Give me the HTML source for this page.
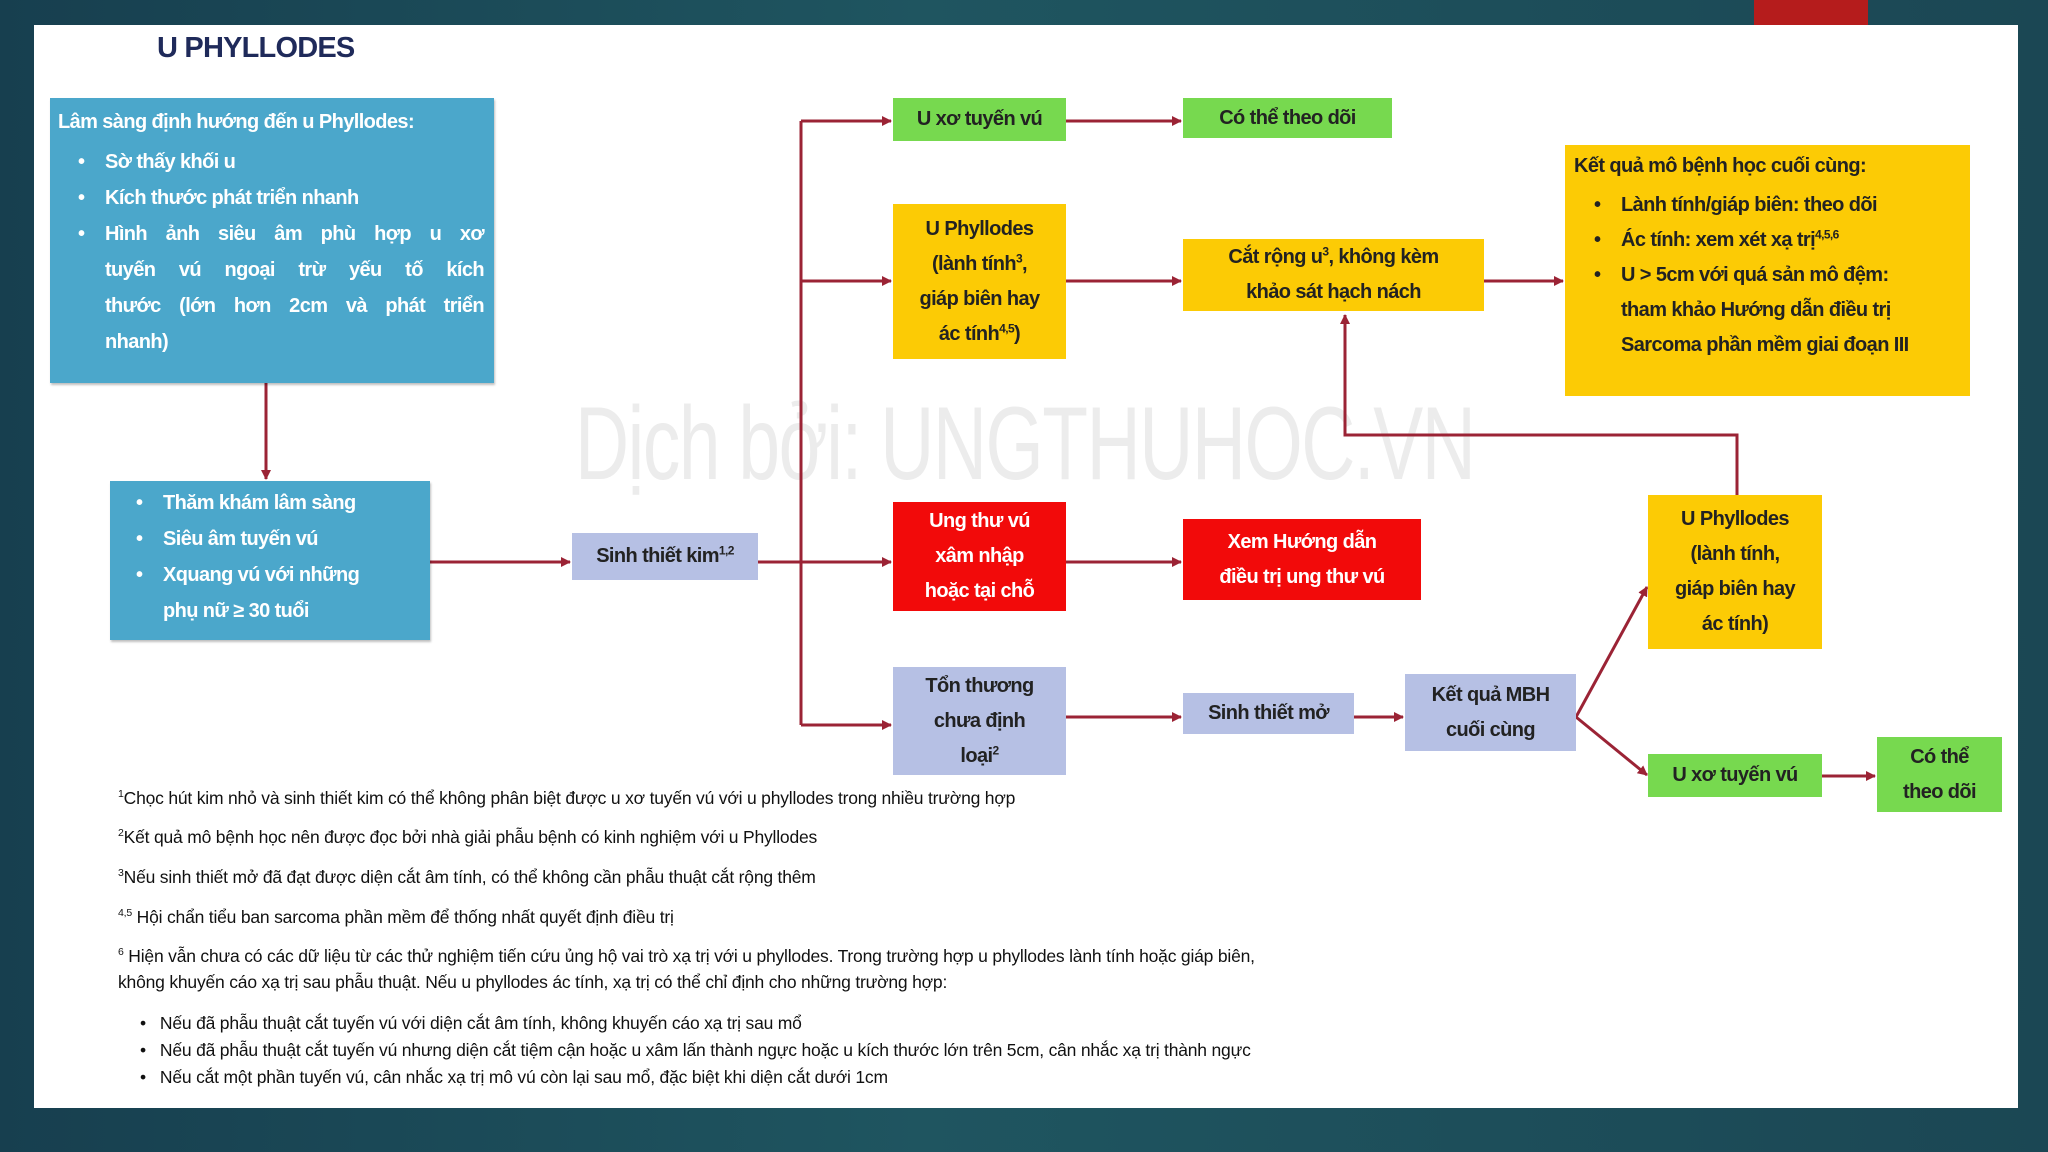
<!DOCTYPE html>
<html><head><meta charset="utf-8">
<style>
*{margin:0;padding:0;box-sizing:border-box}
body{width:2048px;height:1152px;overflow:hidden;background:linear-gradient(90deg,#173f4f 0%,#1f5560 45%,#1b4754 100%);font-family:"Liberation Sans","DejaVu Sans",sans-serif;position:relative}
.panel{position:absolute;left:34px;top:25px;width:1984px;height:1083px;background:#fff}
.tab{position:absolute;left:1754px;top:0;width:114px;height:25px;background:#b51c1c}
.b{position:absolute;display:flex;align-items:center;justify-content:center;text-align:center;font-weight:bold;font-size:20px;line-height:35px;color:#222;letter-spacing:-0.6px}
.b>span{display:block}
.blue{background:#4ba7cb;color:#fff;box-shadow:1px 2px 2px rgba(0,0,0,.25)}
.yel{background:#fccb05}
.grn{background:#77d94f}
.red{background:#f20a0a;color:#fff}
.pur{background:#b6c0e4}
.fn{position:absolute;left:118px;font-size:17.5px;color:#111;white-space:nowrap;letter-spacing:-0.2px}
sup{font-size:60%;line-height:0;vertical-align:super}
ul.w{list-style:none}
ul.w li{position:relative;padding-left:47px}
ul.w li:before{content:"•";position:absolute;left:20px}
.j{display:block;text-align:justify;text-align-last:justify}
</style></head><body>
<div class="tab"></div>
<div class="panel"></div>
<div style="position:absolute;left:157px;top:32px;font-size:29px;font-weight:bold;color:#1f2a5a;letter-spacing:-0.8px">U PHYLLODES</div>
<div style="position:absolute;left:575px;top:385px;font-size:104px;color:#ececec;letter-spacing:-2px;transform:scaleX(0.72);transform-origin:left;white-space:nowrap">Dịch bởi: UNGTHUHOC.VN</div>

<svg style="position:absolute;left:0;top:0" width="2048" height="1152">
<defs><marker id="a" markerWidth="10" markerHeight="10" refX="9" refY="5" orient="auto" markerUnits="userSpaceOnUse"><path d="M0,0 L10,5 L0,10 z" fill="#9b2335"/></marker></defs>
<g stroke="#9b2335" stroke-width="3" fill="none">
<line x1="266" y1="383" x2="266" y2="479" marker-end="url(#a)"/>
<line x1="430" y1="562" x2="570" y2="562" marker-end="url(#a)"/>
<line x1="758" y1="562" x2="891" y2="562" marker-end="url(#a)"/>
<line x1="801" y1="121" x2="801" y2="725"/>
<line x1="801" y1="121" x2="891" y2="121" marker-end="url(#a)"/>
<line x1="801" y1="281" x2="891" y2="281" marker-end="url(#a)"/>
<line x1="801" y1="725" x2="891" y2="725" marker-end="url(#a)"/>
<line x1="1066" y1="121" x2="1181" y2="121" marker-end="url(#a)"/>
<line x1="1066" y1="281" x2="1181" y2="281" marker-end="url(#a)"/>
<line x1="1484" y1="281" x2="1563" y2="281" marker-end="url(#a)"/>
<line x1="1066" y1="562" x2="1181" y2="562" marker-end="url(#a)"/>
<line x1="1066" y1="717" x2="1181" y2="717" marker-end="url(#a)"/>
<line x1="1354" y1="717" x2="1403" y2="717" marker-end="url(#a)"/>
<line x1="1576" y1="717" x2="1647" y2="587" marker-end="url(#a)"/>
<line x1="1576" y1="717" x2="1647" y2="775" marker-end="url(#a)"/>
<line x1="1822" y1="776" x2="1875" y2="776" marker-end="url(#a)"/>
<polyline points="1737,495 1737,435 1345,435 1345,315" marker-end="url(#a)"/>
</g></svg>

<div class="b blue" style="left:50px;top:98px;width:444px;height:285px;display:block;text-align:left;padding:6px 10px 0 8px;line-height:36px;font-size:20px">
<div>Lâm sàng định hướng đến u Phyllodes:</div>
<ul class="w" style="margin-top:4px"><li>Sờ thấy khối u</li><li>Kích thước phát triển nhanh</li><li><span class="j">Hình ảnh siêu âm phù hợp u xơ</span><span class="j">tuyến vú ngoại trừ yếu tố kích</span><span class="j">thước (lớn hơn 2cm và phát triển</span>nhanh)</li></ul>
</div>
<div class="b blue" style="left:110px;top:481px;width:320px;height:159px;display:block;text-align:left;padding:4px 0 0 6px;line-height:36px;font-size:20px">
<ul class="w"><li>Thăm khám lâm sàng</li><li>Siêu âm tuyến vú</li><li>Xquang vú với những<br>phụ nữ ≥ 30 tuổi</li></ul>
</div>
<div class="b pur" style="left:572px;top:533px;width:186px;height:47px"><span>Sinh thiết kim<sup>1,2</sup></span></div>
<div class="b grn" style="left:893px;top:98px;width:173px;height:43px"><span>U xơ tuyến vú</span></div>
<div class="b grn" style="left:1183px;top:98px;width:209px;height:40px"><span>Có thể theo dõi</span></div>
<div class="b yel" style="left:893px;top:204px;width:173px;height:155px"><span>U Phyllodes<br>(lành tính<sup>3</sup>,<br>giáp biên hay<br>ác tính<sup>4,5</sup>)</span></div>
<div class="b yel" style="left:1183px;top:239px;width:301px;height:72px"><span>Cắt rộng u<sup>3</sup>, không kèm<br>khảo sát hạch nách</span></div>
<div class="b yel" style="left:1565px;top:145px;width:405px;height:251px;display:block;text-align:left;padding:4px 0 0 9px;line-height:35px;font-size:20px">
<div>Kết quả mô bệnh học cuối cùng:</div>
<ul class="w" style="margin-top:4px"><li>Lành tính/giáp biên: theo dõi</li><li>Ác tính: xem xét xạ trị<sup>4,5,6</sup></li><li>U &gt; 5cm với quá sản mô đệm:<br>tham khảo Hướng dẫn điều trị<br>Sarcoma phần mềm giai đoạn III</li></ul>
</div>
<div class="b red" style="left:893px;top:502px;width:173px;height:109px"><span>Ung thư vú<br>xâm nhập<br>hoặc tại chỗ</span></div>
<div class="b red" style="left:1183px;top:519px;width:238px;height:81px"><span>Xem Hướng dẫn<br>điều trị ung thư vú</span></div>
<div class="b pur" style="left:893px;top:667px;width:173px;height:108px"><span>Tổn thương<br>chưa định<br>loại<sup>2</sup></span></div>
<div class="b pur" style="left:1183px;top:693px;width:171px;height:41px"><span>Sinh thiết mở</span></div>
<div class="b pur" style="left:1405px;top:674px;width:171px;height:77px"><span>Kết quả MBH<br>cuối cùng</span></div>
<div class="b yel" style="left:1648px;top:495px;width:174px;height:154px"><span>U Phyllodes<br>(lành tính,<br>giáp biên hay<br>ác tính)</span></div>
<div class="b grn" style="left:1648px;top:754px;width:174px;height:43px"><span>U xơ tuyến vú</span></div>
<div class="b grn" style="left:1877px;top:737px;width:125px;height:75px"><span>Có thể<br>theo dõi</span></div>

<div class="fn" style="top:788px"><sup>1</sup>Chọc hút kim nhỏ và sinh thiết kim có thể không phân biệt được u xơ tuyến vú với u phyllodes trong nhiều trường hợp</div>
<div class="fn" style="top:827px"><sup>2</sup>Kết quả mô bệnh học nên được đọc bởi nhà giải phẫu bệnh có kinh nghiệm với u Phyllodes</div>
<div class="fn" style="top:867px"><sup>3</sup>Nếu sinh thiết mở đã đạt được diện cắt âm tính, có thể không cần phẫu thuật cắt rộng thêm</div>
<div class="fn" style="top:907px"><sup>4,5</sup> Hội chẩn tiểu ban sarcoma phần mềm để thống nhất quyết định điều trị</div>
<div class="fn" style="top:946px"><sup>6</sup> Hiện vẫn chưa có các dữ liệu từ các thử nghiệm tiến cứu ủng hộ vai trò xạ trị với u phyllodes. Trong trường hợp u phyllodes lành tính hoặc giáp biên,</div>
<div class="fn" style="top:972px">không khuyến cáo xạ trị sau phẫu thuật. Nếu u phyllodes ác tính, xạ trị có thể chỉ định cho những trường hợp:</div>
<div class="fn" style="top:1013px;left:140px">•&nbsp;&nbsp;&nbsp;Nếu đã phẫu thuật cắt tuyến vú với diện cắt âm tính, không khuyến cáo xạ trị sau mổ</div>
<div class="fn" style="top:1040px;left:140px">•&nbsp;&nbsp;&nbsp;Nếu đã phẫu thuật cắt tuyến vú nhưng diện cắt tiệm cận hoặc u xâm lấn thành ngực hoặc u kích thước lớn trên 5cm, cân nhắc xạ trị thành ngực</div>
<div class="fn" style="top:1067px;left:140px">•&nbsp;&nbsp;&nbsp;Nếu cắt một phần tuyến vú, cân nhắc xạ trị mô vú còn lại sau mổ, đặc biệt khi diện cắt dưới 1cm</div>
</body></html>
